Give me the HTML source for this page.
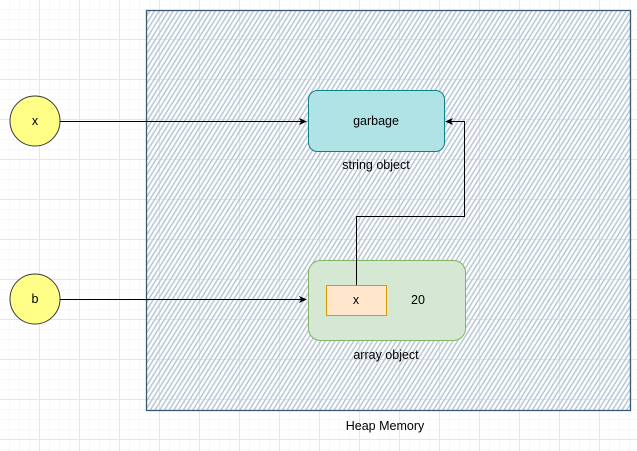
<!DOCTYPE html>
<html><head><style>
html,body{margin:0;padding:0;background:#fff}
svg{display:block}
text{font-family:"Liberation Sans",Arial,sans-serif;font-size:12.5px;fill:#000}
</style></head><body>
<svg width="637" height="451" viewBox="0 0 637 451">
<defs>
<pattern id="g" width="10" height="10" patternUnits="userSpaceOnUse">
<path d="M10 0V10M0 10H10" stroke="#f2f2f2" stroke-width="1" fill="none"/>
</pattern>
<pattern id="G" width="40" height="40" patternUnits="userSpaceOnUse" x="-1" y="-1">
<path d="M0 0.5H40M0.5 0V40" stroke="#e6e6e6" stroke-width="1" fill="none"/>
</pattern>
<pattern id="h" width="4" height="7" patternUnits="userSpaceOnUse" patternTransform="rotate(32)">
<rect width="1.5" height="7" fill="#b9c8d6"/>
</pattern>
<marker id="a" markerWidth="8" markerHeight="8" refX="7" refY="4" orient="auto" markerUnits="userSpaceOnUse">
<path d="M0 0.5L8 4L0 7.5L2 4Z" fill="#000"/>
</marker>
</defs>
<rect width="637" height="451" fill="url(#g)"/>
<rect width="637" height="451" fill="url(#G)"/>
<rect x="146.5" y="10.5" width="484" height="400" fill="url(#h)" stroke="#3b5a75" stroke-width="1.3"/>
<text x="385" y="430" text-anchor="middle">Heap Memory</text>
<circle cx="35" cy="121" r="25" fill="#ffff88" stroke="#36393d"/>
<text x="35" y="125" text-anchor="middle">x</text>
<circle cx="35" cy="299" r="25" fill="#ffff88" stroke="#36393d"/>
<text x="35" y="303" text-anchor="middle">b</text>
<rect x="308.5" y="90.5" width="136" height="61" rx="9" fill="#b0e3e6" stroke="#0e8088"/>
<text x="376" y="125" text-anchor="middle">garbage</text>
<text x="376" y="169" text-anchor="middle">string object</text>
<rect x="308.5" y="260.5" width="157" height="80" rx="12" fill="#d5e8d4" stroke="#82b366"/>
<rect x="326.5" y="285.5" width="60" height="30" fill="#ffe6cc" stroke="#d79b00"/>
<text x="356" y="304" text-anchor="middle">x</text>
<text x="418" y="304" text-anchor="middle">20</text>
<text x="386" y="359" text-anchor="middle">array object</text>
<path d="M60 121.5H306" stroke="#000" fill="none" marker-end="url(#a)"/>
<path d="M60 299.5H306" stroke="#000" fill="none" marker-end="url(#a)"/>
<path d="M356.5 285V216.5H464.5V121.5H446" stroke="#000" fill="none" marker-end="url(#a)"/>
</svg>
</body></html>
